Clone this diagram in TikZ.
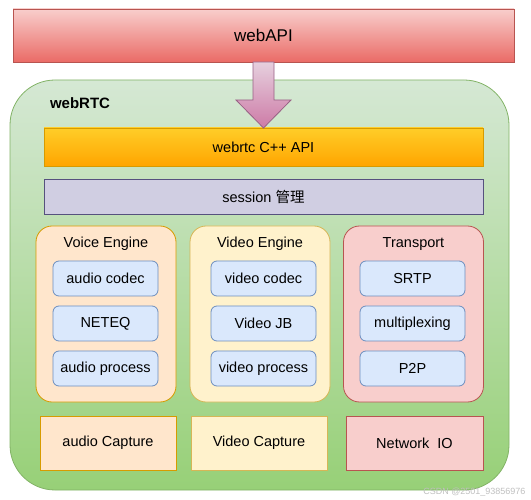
\documentclass[tikz,border=0pt]{standalone}
\usepackage{fontspec}
\setmainfont{Liberation Sans}
\newfontfamily\cjk{Noto Sans CJK SC}
\usetikzlibrary{shapes.arrows}
\definecolor{redL}{HTML}{F8CECC}
\definecolor{redD}{HTML}{EA6B66}
\definecolor{redB}{HTML}{B85450}
\definecolor{grnL}{HTML}{D5E8D4}
\definecolor{grnD}{HTML}{97D077}
\definecolor{grnB}{HTML}{82B366}
\definecolor{orgL}{HTML}{FFCD28}
\definecolor{orgD}{HTML}{FFA500}
\definecolor{orgB}{HTML}{D79B00}
\definecolor{purF}{HTML}{D0CEE2}
\definecolor{purB}{HTML}{56517E}
\definecolor{peachF}{HTML}{FFE6CC}
\definecolor{yelF}{HTML}{FFF2CC}
\definecolor{yelB}{HTML}{D6B656}
\definecolor{bluF}{HTML}{DAE8FC}
\definecolor{bluB}{HTML}{6C8EBF}
\definecolor{arrL}{HTML}{E6D0DE}
\definecolor{arrD}{HTML}{CD7AA6}
\definecolor{arrB}{HTML}{996185}
\tikzset{
  box/.style={draw, line width=0.8pt, font=\fontsize{14.5}{16}\selectfont, inner sep=0pt},
  inner/.style={box, draw=bluB, fill=bluF, rounded corners=6pt, minimum width=105pt, minimum height=35pt},
  engine/.style={box, rounded corners=16pt, minimum width=140pt, minimum height=176pt},
  title/.style={font=\fontsize{14.5}{16}\selectfont},
}
\begin{document}
\begin{tikzpicture}[x=1pt,y=-1pt]
\useasboundingbox (0,0) rectangle (531,500);
% webAPI
\node[box, draw=redB, top color=redL, bottom color=redD, minimum width=501pt, minimum height=53pt, font=\fontsize{17}{19}\selectfont] (api) at (263.5,35.5) {webAPI};
% container
\node[box, draw=grnB, top color=grnL, bottom color=grnD, rounded corners=45pt, minimum width=499pt, minimum height=410pt] (rtc) at (259.5,285) {};
\node[font=\bfseries\fontsize{15}{17}\selectfont, anchor=west] (rtclbl) at (46.5,103) {webRTC};
% C++ API
\node[box, draw=orgB, top color=orgL, bottom color=orgD, minimum width=439pt, minimum height=38pt] (cpp) at (263.5,147) {webrtc C++ API};
% arrow
\draw[draw=arrB, line width=0.8pt, top color=arrL, bottom color=arrD]
  (253,62) -- (274,62) -- (274,100) -- (291,100) -- (263.5,128) -- (236,100) -- (253,100) -- cycle;
% session
\node[box, draw=purB, fill=purF, minimum width=439pt, minimum height=35pt] (sess) at (263.5,196.5) {session {\cjk 管理}};
% engines
\node[engine, draw=orgB, fill=peachF] (voice) at (106,314) {};
\node[engine, draw=yelB, fill=yelF] (video) at (260,314) {};
\node[engine, draw=redB, fill=redL] (trans) at (413.5,314) {};
\node[title] (voicet) at (106,244) {Voice Engine};
\node[title] (videot) at (260,244) {Video Engine};
\node[title] (transt) at (413.5,244) {Transport};
% inner boxes
\node[inner] (acodec) at (105.5,278.5) {audio codec};
\node[inner] (neteq) at (105.5,323.5) {NETEQ};
\node[inner] (aproc) at (105.5,368.5) {audio process};
\node[inner] (vcodec) at (263.5,278.5) {video codec};
\node[inner] (vjb) at (263.5,323.5) {Video JB};
\node[inner] (vproc) at (263.5,368.5) {video process};
\node[inner] (srtp) at (412.5,278.5) {SRTP};
\node[inner] (mux) at (412.5,323.5) {multiplexing};
\node[inner] (p2p) at (412.5,368.5) {P2P};
% bottom boxes
\node[box, draw=orgB, fill=peachF, minimum width=136pt, minimum height=54pt] (acap) at (108,443) {audio Capture};
\node[box, draw=yelB, fill=yelF, minimum width=136pt, minimum height=54pt] (vcap) at (259,443) {Video Capture};
\node[box, draw=redB, fill=redL, minimum width=137pt, minimum height=54pt] (netio) at (414.5,443) {Network\ \ IO};
% watermark
\node[font=\fontsize{9}{10}\selectfont, text=black!25, anchor=east] (wm) at (529,492) {CSDN @2501\_93856976};
\end{tikzpicture}
\end{document}
